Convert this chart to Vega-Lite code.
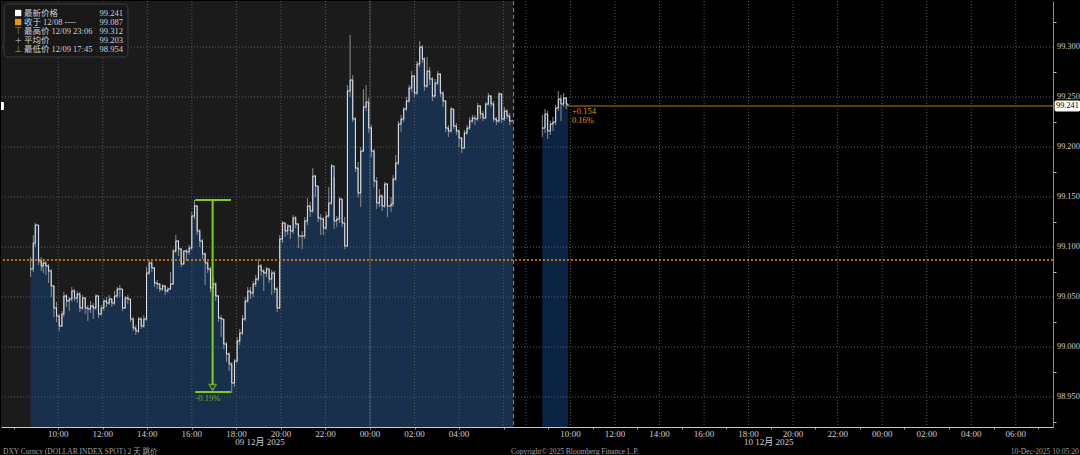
{
  "$schema": "https://vega.github.io/schema/vega-lite/v6.json",
  "width": 1052,
  "height": 426,
  "padding": 0,
  "background": "#000000",
  "config": {
    "view": {"stroke": null, "fill": "#000000"},
    "text": {"font": "Liberation Serif, Noto Sans CJK SC"}
  },
  "datasets": {
    "px": [
      {"t":8.758,"c":99.078,"h":99.090,"l":99.070,"s":1},
      {"t":8.878,"c":99.104,"h":99.112,"l":99.075,"s":1},
      {"t":8.968,"c":99.122,"h":99.124,"l":99.100,"s":1},
      {"t":9.117,"c":99.086,"h":99.122,"l":99.082,"s":1},
      {"t":9.237,"c":99.081,"h":99.090,"l":99.076,"s":1},
      {"t":9.327,"c":99.084,"h":99.088,"l":99.074,"s":1},
      {"t":9.447,"c":99.081,"h":99.086,"l":99.072,"s":1},
      {"t":9.566,"c":99.076,"h":99.083,"l":99.064,"s":1},
      {"t":9.686,"c":99.061,"h":99.078,"l":99.050,"s":1},
      {"t":9.806,"c":99.039,"h":99.062,"l":99.030,"s":1},
      {"t":9.925,"c":99.031,"h":99.045,"l":99.025,"s":1},
      {"t":10.045,"c":99.021,"h":99.033,"l":99.016,"s":1},
      {"t":10.165,"c":99.033,"h":99.036,"l":99.020,"s":1},
      {"t":10.254,"c":99.051,"h":99.055,"l":99.030,"s":1},
      {"t":10.374,"c":99.046,"h":99.053,"l":99.040,"s":1},
      {"t":10.494,"c":99.048,"h":99.050,"l":99.036,"s":1},
      {"t":10.613,"c":99.056,"h":99.060,"l":99.045,"s":1},
      {"t":10.733,"c":99.049,"h":99.058,"l":99.046,"s":1},
      {"t":10.853,"c":99.053,"h":99.056,"l":99.044,"s":1},
      {"t":10.972,"c":99.039,"h":99.055,"l":99.035,"s":1},
      {"t":11.092,"c":99.049,"h":99.052,"l":99.037,"s":1},
      {"t":11.212,"c":99.039,"h":99.050,"l":99.033,"s":1},
      {"t":11.331,"c":99.038,"h":99.042,"l":99.026,"s":1},
      {"t":11.451,"c":99.041,"h":99.046,"l":99.034,"s":1},
      {"t":11.571,"c":99.039,"h":99.044,"l":99.028,"s":1},
      {"t":11.690,"c":99.051,"h":99.053,"l":99.037,"s":1},
      {"t":11.810,"c":99.033,"h":99.052,"l":99.029,"s":1},
      {"t":11.930,"c":99.039,"h":99.042,"l":99.031,"s":1},
      {"t":12.049,"c":99.046,"h":99.048,"l":99.036,"s":1},
      {"t":12.169,"c":99.044,"h":99.050,"l":99.040,"s":1},
      {"t":12.289,"c":99.048,"h":99.052,"l":99.042,"s":1},
      {"t":12.408,"c":99.044,"h":99.049,"l":99.040,"s":1},
      {"t":12.528,"c":99.051,"h":99.056,"l":99.042,"s":1},
      {"t":12.648,"c":99.058,"h":99.060,"l":99.049,"s":1},
      {"t":12.767,"c":99.058,"h":99.062,"l":99.050,"s":1},
      {"t":12.887,"c":99.039,"h":99.058,"l":99.036,"s":1},
      {"t":13.007,"c":99.049,"h":99.051,"l":99.038,"s":1},
      {"t":13.126,"c":99.048,"h":99.052,"l":99.043,"s":1},
      {"t":13.246,"c":99.028,"h":99.048,"l":99.025,"s":1},
      {"t":13.366,"c":99.019,"h":99.030,"l":99.016,"s":1},
      {"t":13.485,"c":99.016,"h":99.022,"l":99.012,"s":1},
      {"t":13.605,"c":99.028,"h":99.030,"l":99.014,"s":1},
      {"t":13.725,"c":99.021,"h":99.030,"l":99.018,"s":1},
      {"t":13.844,"c":99.028,"h":99.032,"l":99.019,"s":1},
      {"t":13.964,"c":99.074,"h":99.080,"l":99.026,"s":1},
      {"t":14.084,"c":99.084,"h":99.087,"l":99.072,"s":1},
      {"t":14.203,"c":99.079,"h":99.086,"l":99.075,"s":1},
      {"t":14.323,"c":99.064,"h":99.080,"l":99.060,"s":1},
      {"t":14.443,"c":99.063,"h":99.067,"l":99.058,"s":1},
      {"t":14.562,"c":99.058,"h":99.064,"l":99.055,"s":1},
      {"t":14.682,"c":99.061,"h":99.063,"l":99.056,"s":1},
      {"t":14.802,"c":99.056,"h":99.062,"l":99.052,"s":1},
      {"t":14.921,"c":99.058,"h":99.060,"l":99.054,"s":1},
      {"t":15.041,"c":99.063,"h":99.075,"l":99.057,"s":1},
      {"t":15.161,"c":99.096,"h":99.098,"l":99.062,"s":1},
      {"t":15.280,"c":99.106,"h":99.112,"l":99.094,"s":1},
      {"t":15.400,"c":99.098,"h":99.107,"l":99.091,"s":1},
      {"t":15.520,"c":99.083,"h":99.099,"l":99.080,"s":1},
      {"t":15.639,"c":99.096,"h":99.097,"l":99.082,"s":1},
      {"t":15.759,"c":99.095,"h":99.098,"l":99.086,"s":1},
      {"t":15.879,"c":99.099,"h":99.102,"l":99.092,"s":1},
      {"t":15.998,"c":99.131,"h":99.135,"l":99.097,"s":1},
      {"t":16.118,"c":99.141,"h":99.147,"l":99.128,"s":1},
      {"t":16.238,"c":99.116,"h":99.142,"l":99.112,"s":1},
      {"t":16.357,"c":99.106,"h":99.118,"l":99.100,"s":1},
      {"t":16.477,"c":99.093,"h":99.108,"l":99.088,"s":1},
      {"t":16.597,"c":99.084,"h":99.095,"l":99.062,"s":1},
      {"t":16.716,"c":99.078,"h":99.086,"l":99.074,"s":1},
      {"t":16.836,"c":99.059,"h":99.080,"l":99.055,"s":1},
      {"t":16.956,"c":99.063,"h":99.070,"l":99.050,"s":1},
      {"t":17.075,"c":99.051,"h":99.065,"l":99.046,"s":1},
      {"t":17.195,"c":99.029,"h":99.052,"l":99.025,"s":1},
      {"t":17.315,"c":99.028,"h":99.032,"l":99.010,"s":1},
      {"t":17.434,"c":99.003,"h":99.028,"l":98.998,"s":1},
      {"t":17.554,"c":98.993,"h":99.005,"l":98.985,"s":1},
      {"t":17.674,"c":98.983,"h":98.995,"l":98.976,"s":1},
      {"t":17.793,"c":98.964,"h":98.985,"l":98.954,"s":1},
      {"t":17.913,"c":98.986,"h":98.988,"l":98.960,"s":1},
      {"t":18.033,"c":99.006,"h":99.010,"l":98.984,"s":1},
      {"t":18.152,"c":99.014,"h":99.018,"l":99.002,"s":1},
      {"t":18.272,"c":99.028,"h":99.032,"l":99.012,"s":1},
      {"t":18.392,"c":99.046,"h":99.050,"l":99.026,"s":1},
      {"t":18.511,"c":99.056,"h":99.060,"l":99.044,"s":1},
      {"t":18.631,"c":99.054,"h":99.060,"l":99.048,"s":1},
      {"t":18.751,"c":99.063,"h":99.066,"l":99.050,"s":1},
      {"t":18.870,"c":99.068,"h":99.072,"l":99.060,"s":1},
      {"t":18.990,"c":99.081,"h":99.088,"l":99.066,"s":1},
      {"t":19.110,"c":99.076,"h":99.083,"l":99.071,"s":1},
      {"t":19.229,"c":99.074,"h":99.078,"l":99.056,"s":1},
      {"t":19.349,"c":99.078,"h":99.080,"l":99.070,"s":1},
      {"t":19.469,"c":99.068,"h":99.079,"l":99.064,"s":1},
      {"t":19.588,"c":99.074,"h":99.077,"l":99.052,"s":1},
      {"t":19.708,"c":99.058,"h":99.076,"l":99.054,"s":1},
      {"t":19.828,"c":99.039,"h":99.060,"l":99.035,"s":1},
      {"t":19.947,"c":99.108,"h":99.112,"l":99.038,"s":1},
      {"t":20.067,"c":99.124,"h":99.126,"l":99.104,"s":1},
      {"t":20.187,"c":99.116,"h":99.125,"l":99.110,"s":1},
      {"t":20.306,"c":99.121,"h":99.123,"l":99.112,"s":1},
      {"t":20.426,"c":99.116,"h":99.122,"l":99.108,"s":1},
      {"t":20.546,"c":99.129,"h":99.132,"l":99.113,"s":1},
      {"t":20.665,"c":99.123,"h":99.131,"l":99.119,"s":1},
      {"t":20.785,"c":99.111,"h":99.124,"l":99.099,"s":1},
      {"t":20.952,"c":99.111,"h":99.116,"l":99.098,"s":1},
      {"t":21.071,"c":99.126,"h":99.130,"l":99.108,"s":1},
      {"t":21.191,"c":99.141,"h":99.149,"l":99.122,"s":1},
      {"t":21.311,"c":99.136,"h":99.145,"l":99.130,"s":1},
      {"t":21.430,"c":99.171,"h":99.179,"l":99.134,"s":1},
      {"t":21.550,"c":99.161,"h":99.172,"l":99.150,"s":1},
      {"t":21.670,"c":99.129,"h":99.161,"l":99.125,"s":1},
      {"t":21.789,"c":99.128,"h":99.133,"l":99.112,"s":1},
      {"t":21.909,"c":99.119,"h":99.130,"l":99.112,"s":1},
      {"t":22.029,"c":99.131,"h":99.135,"l":99.117,"s":1},
      {"t":22.148,"c":99.144,"h":99.160,"l":99.129,"s":1},
      {"t":22.268,"c":99.181,"h":99.183,"l":99.142,"s":1},
      {"t":22.388,"c":99.126,"h":99.170,"l":99.118,"s":1},
      {"t":22.507,"c":99.128,"h":99.131,"l":99.120,"s":1},
      {"t":22.627,"c":99.148,"h":99.150,"l":99.124,"s":1},
      {"t":22.747,"c":99.124,"h":99.148,"l":99.120,"s":1},
      {"t":22.866,"c":99.101,"h":99.130,"l":99.098,"s":1},
      {"t":22.986,"c":99.256,"h":99.262,"l":99.100,"s":1},
      {"t":23.106,"c":99.267,"h":99.312,"l":99.250,"s":1},
      {"t":23.225,"c":99.228,"h":99.272,"l":99.225,"s":1},
      {"t":23.345,"c":99.179,"h":99.230,"l":99.175,"s":1},
      {"t":23.465,"c":99.154,"h":99.185,"l":99.150,"s":1},
      {"t":23.584,"c":99.196,"h":99.200,"l":99.140,"s":1},
      {"t":23.704,"c":99.240,"h":99.258,"l":99.195,"s":1},
      {"t":23.824,"c":99.245,"h":99.262,"l":99.236,"s":1},
      {"t":23.943,"c":99.219,"h":99.249,"l":99.214,"s":1},
      {"t":24.063,"c":99.196,"h":99.222,"l":99.190,"s":1},
      {"t":24.183,"c":99.166,"h":99.198,"l":99.160,"s":1},
      {"t":24.302,"c":99.144,"h":99.170,"l":99.138,"s":1},
      {"t":24.422,"c":99.151,"h":99.158,"l":99.140,"s":1},
      {"t":24.542,"c":99.141,"h":99.153,"l":99.136,"s":1},
      {"t":24.661,"c":99.163,"h":99.165,"l":99.139,"s":1},
      {"t":24.781,"c":99.141,"h":99.164,"l":99.130,"s":1},
      {"t":24.946,"c":99.143,"h":99.150,"l":99.135,"s":1},
      {"t":25.036,"c":99.168,"h":99.172,"l":99.140,"s":1},
      {"t":25.155,"c":99.184,"h":99.192,"l":99.166,"s":1},
      {"t":25.275,"c":99.223,"h":99.226,"l":99.182,"s":1},
      {"t":25.395,"c":99.228,"h":99.232,"l":99.215,"s":1},
      {"t":25.514,"c":99.238,"h":99.240,"l":99.225,"s":1},
      {"t":25.634,"c":99.246,"h":99.250,"l":99.236,"s":1},
      {"t":25.754,"c":99.259,"h":99.262,"l":99.244,"s":1},
      {"t":25.873,"c":99.271,"h":99.276,"l":99.255,"s":1},
      {"t":25.993,"c":99.254,"h":99.272,"l":99.250,"s":1},
      {"t":26.113,"c":99.283,"h":99.286,"l":99.252,"s":1},
      {"t":26.232,"c":99.300,"h":99.306,"l":99.280,"s":1},
      {"t":26.352,"c":99.288,"h":99.302,"l":99.284,"s":1},
      {"t":26.442,"c":99.261,"h":99.290,"l":99.256,"s":1},
      {"t":26.562,"c":99.276,"h":99.290,"l":99.259,"s":1},
      {"t":26.681,"c":99.268,"h":99.280,"l":99.262,"s":1},
      {"t":26.801,"c":99.251,"h":99.270,"l":99.246,"s":1},
      {"t":26.921,"c":99.264,"h":99.268,"l":99.249,"s":1},
      {"t":27.041,"c":99.273,"h":99.276,"l":99.262,"s":1},
      {"t":27.160,"c":99.254,"h":99.274,"l":99.250,"s":1},
      {"t":27.280,"c":99.246,"h":99.256,"l":99.240,"s":1},
      {"t":27.400,"c":99.219,"h":99.247,"l":99.215,"s":1},
      {"t":27.519,"c":99.216,"h":99.222,"l":99.210,"s":1},
      {"t":27.639,"c":99.238,"h":99.240,"l":99.214,"s":1},
      {"t":27.759,"c":99.221,"h":99.238,"l":99.218,"s":1},
      {"t":27.878,"c":99.216,"h":99.224,"l":99.212,"s":1},
      {"t":27.998,"c":99.209,"h":99.218,"l":99.200,"s":1},
      {"t":28.118,"c":99.199,"h":99.210,"l":99.194,"s":1},
      {"t":28.237,"c":99.214,"h":99.217,"l":99.198,"s":1},
      {"t":28.357,"c":99.219,"h":99.222,"l":99.212,"s":1},
      {"t":28.477,"c":99.226,"h":99.230,"l":99.217,"s":1},
      {"t":28.596,"c":99.229,"h":99.232,"l":99.224,"s":1},
      {"t":28.716,"c":99.228,"h":99.232,"l":99.222,"s":1},
      {"t":28.836,"c":99.241,"h":99.244,"l":99.226,"s":1},
      {"t":28.955,"c":99.233,"h":99.242,"l":99.228,"s":1},
      {"t":29.075,"c":99.229,"h":99.236,"l":99.226,"s":1},
      {"t":29.195,"c":99.243,"h":99.245,"l":99.228,"s":1},
      {"t":29.314,"c":99.251,"h":99.254,"l":99.241,"s":1},
      {"t":29.434,"c":99.243,"h":99.252,"l":99.240,"s":1},
      {"t":29.554,"c":99.228,"h":99.246,"l":99.225,"s":1},
      {"t":29.673,"c":99.226,"h":99.230,"l":99.222,"s":1},
      {"t":29.793,"c":99.253,"h":99.255,"l":99.224,"s":1},
      {"t":29.913,"c":99.228,"h":99.254,"l":99.224,"s":1},
      {"t":30.032,"c":99.236,"h":99.240,"l":99.226,"s":1},
      {"t":30.152,"c":99.231,"h":99.238,"l":99.228,"s":1},
      {"t":30.272,"c":99.226,"h":99.234,"l":99.222,"s":1},
      {"t":30.420,"c":99.226,"s":1},
      {"t":31.738,"c":99.219,"h":99.232,"l":99.210,"s":2},
      {"t":31.858,"c":99.233,"h":99.238,"l":99.214,"s":2},
      {"t":31.978,"c":99.216,"h":99.236,"l":99.208,"s":2},
      {"t":32.097,"c":99.223,"h":99.226,"l":99.212,"s":2},
      {"t":32.217,"c":99.225,"h":99.230,"l":99.216,"s":2},
      {"t":32.337,"c":99.239,"h":99.242,"l":99.222,"s":2},
      {"t":32.456,"c":99.248,"h":99.256,"l":99.236,"s":2},
      {"t":32.576,"c":99.243,"h":99.252,"l":99.226,"s":2},
      {"t":32.696,"c":99.249,"h":99.254,"l":99.240,"s":2},
      {"t":32.815,"c":99.243,"h":99.250,"l":99.238,"s":2},
      {"t":32.890,"c":99.241,"s":2}
    ],
    "xgrid": [
      {"t":10},{"t":12},{"t":14},{"t":16},{"t":18},{"t":20},{"t":22},{"t":24},{"t":26},{"t":28},{"t":30},
      {"t":31},{"t":33},{"t":35},{"t":37},{"t":39},{"t":41},{"t":43},{"t":45},{"t":47},{"t":49},{"t":51},{"t":53}
    ],
    "xlab": [
      {"t":10,"txt":"10:00"},{"t":12,"txt":"12:00"},{"t":14,"txt":"14:00"},{"t":16,"txt":"16:00"},
      {"t":18,"txt":"18:00"},{"t":20,"txt":"20:00"},{"t":22,"txt":"22:00"},{"t":24,"txt":"00:00"},
      {"t":26,"txt":"02:00"},{"t":28,"txt":"04:00"},
      {"t":33,"txt":"10:00"},{"t":35,"txt":"12:00"},{"t":37,"txt":"14:00"},{"t":39,"txt":"16:00"},
      {"t":41,"txt":"18:00"},{"t":43,"txt":"20:00"},{"t":45,"txt":"22:00"},{"t":47,"txt":"00:00"},
      {"t":49,"txt":"02:00"},{"t":51,"txt":"04:00"},{"t":53,"txt":"06:00"}
    ],
    "ygrid": [
      {"v":98.95,"txt":"98.950"},{"v":99.0,"txt":"99.000"},{"v":99.05,"txt":"99.050"},{"v":99.1,"txt":"99.100"},
      {"v":99.15,"txt":"99.150"},{"v":99.2,"txt":"99.200"},{"v":99.25,"txt":"99.250"},{"v":99.3,"txt":"99.300"}
    ],
    "legL": [
      {"v":99.334,"txt":"最新价格"},
      {"v":99.325,"txt":"收于 12/08 ----"},
      {"v":99.316,"txt":"最高价 12/09 23:06"},
      {"v":99.307,"txt":"平均价"},
      {"v":99.298,"txt":"最低价 12/09 17:45"}
    ],
    "legR": [
      {"v":99.334,"txt":"99.241"},
      {"v":99.325,"txt":"99.087"},
      {"v":99.316,"txt":"99.312"},
      {"v":99.307,"txt":"99.203"},
      {"v":99.298,"txt":"98.954"}
    ],
    "legS": [
      {"v":99.316,"txt":"⊤"},
      {"v":99.307,"txt":"+"},
      {"v":99.298,"txt":"⊥"}
    ],
    "dates": [
      {"t":19.06,"txt":"09 12月 2025"},
      {"t":41.91,"txt":"10 12月 2025"}
    ]
  },
  "layer": [
    {
      "data": {"values": [{}]},
      "mark": {"type": "rect", "color": "#1b1b1b"},
      "encoding": {
        "x": {"datum": 7.43, "type": "quantitative",
          "scale": {"domain": [7.43, 54.67], "nice": false, "zero": false},
          "axis": {
            "orient": "bottom", "title": null, "grid": false, "labels": false,
            "values": [8,9,10,11,12,13,14,15,16,17,18,19,20,21,22,23,24,25,26,27,28,29,30,31,32,33,34,35,36,37,38,39,40,41,42,43,44,45,46,47,48,49,50,51,52,53,54],
            "domainColor": "#c8c8c8", "tickColor": "#9a9a9a", "tickSize": 2
          }
        },
        "x2": {"datum": 30.449},
        "y": {"datum": 99.346, "type": "quantitative",
          "scale": {"domain": [98.92, 99.346], "nice": false, "zero": false},
          "axis": {
            "orient": "right", "title": null, "grid": false, "labels": false,
            "values": [98.925,98.95,98.975,99.0,99.025,99.05,99.075,99.1,99.125,99.15,99.175,99.2,99.225,99.25,99.275,99.3,99.325],
            "domainColor": "#8a8a8a", "tickColor": "#bdbdbd", "tickSize": 3
          }
        },
        "y2": {"datum": 98.92}
      }
    },
    {
      "data": {"name": "px"},
      "transform": [{"filter": "datum.s == 1"}],
      "mark": {"type": "area", "interpolate": "step-after", "color": "#18304c", "opacity": 1},
      "encoding": {
        "x": {"field": "t", "type": "quantitative"},
        "y": {"field": "c", "type": "quantitative"},
        "y2": {"datum": 98.92}
      }
    },
    {
      "data": {"name": "px"},
      "transform": [{"filter": "datum.s == 2"}],
      "mark": {"type": "area", "interpolate": "step-after", "color": "#0c2443", "opacity": 1},
      "encoding": {
        "x": {"field": "t", "type": "quantitative"},
        "y": {"field": "c", "type": "quantitative"},
        "y2": {"datum": 98.92}
      }
    },
    {
      "data": {"name": "ygrid"},
      "mark": {"type": "rule", "color": "#5a5a5a", "strokeDash": [1, 2], "strokeWidth": 1},
      "encoding": {"y": {"field": "v", "type": "quantitative"}}
    },
    {
      "data": {"name": "xgrid"},
      "mark": {"type": "rule", "color": "#5a5a5a", "strokeDash": [1, 2], "strokeWidth": 1},
      "encoding": {"x": {"field": "t", "type": "quantitative"}}
    },
    {
      "data": {"values": [{}]},
      "mark": {"type": "rule", "color": "#ffffff", "opacity": 0.09, "strokeWidth": 2},
      "encoding": {"x": {"datum": 24, "type": "quantitative"}}
    },
    {
      "data": {"values": [{}]},
      "mark": {"type": "rule", "color": "#8a8a8a", "strokeDash": [4, 3], "strokeWidth": 1},
      "encoding": {"x": {"datum": 30.449, "type": "quantitative"}}
    },
    {
      "data": {"name": "px"},
      "mark": {"type": "rule", "color": "#8e8e8e", "strokeWidth": 1},
      "encoding": {
        "x": {"field": "t", "type": "quantitative"},
        "y": {"field": "l", "type": "quantitative"},
        "y2": {"field": "h"}
      }
    },
    {
      "data": {"name": "px"},
      "mark": {"type": "line", "interpolate": "step-after", "color": "#dde3ea", "strokeWidth": 1},
      "encoding": {
        "x": {"field": "t", "type": "quantitative"},
        "y": {"field": "c", "type": "quantitative"},
        "detail": {"field": "s"}
      }
    },
    {
      "data": {"values": [{}]},
      "mark": {"type": "rule", "color": "#f08c00", "strokeDash": [2, 2], "strokeWidth": 1.5},
      "encoding": {"y": {"datum": 99.087, "type": "quantitative"}}
    },
    {
      "data": {"values": [{}]},
      "mark": {"type": "rule", "color": "#7d5600", "strokeWidth": 1.5},
      "encoding": {
        "x": {"datum": 32.89, "type": "quantitative"},
        "x2": {"datum": 54.67},
        "y": {"datum": 99.241, "type": "quantitative"}
      }
    },
    {
      "data": {"values": [{"txt": "+0.154", "v": 99.236}, {"txt": "0.16%", "v": 99.227}]},
      "mark": {"type": "text", "align": "left", "baseline": "middle", "color": "#e8900a", "fontSize": 8.5},
      "encoding": {
        "x": {"datum": 33.07, "type": "quantitative"},
        "y": {"field": "v", "type": "quantitative"},
        "text": {"field": "txt"}
      }
    },
    {
      "data": {"values": [{"a": 16.152, "b": 17.755, "v": 99.147}, {"a": 16.152, "b": 17.755, "v": 98.955}]},
      "mark": {"type": "rule", "color": "#7fcc1c", "strokeWidth": 2},
      "encoding": {
        "x": {"field": "a", "type": "quantitative"},
        "x2": {"field": "b"},
        "y": {"field": "v", "type": "quantitative"}
      }
    },
    {
      "data": {"values": [{}]},
      "mark": {"type": "rule", "color": "#7fcc1c", "strokeWidth": 2},
      "encoding": {
        "x": {"datum": 16.933, "type": "quantitative"},
        "y": {"datum": 99.147, "type": "quantitative"},
        "y2": {"datum": 98.962}
      }
    },
    {
      "data": {"values": [{}]},
      "mark": {"type": "point", "shape": "triangle-down", "filled": false, "color": "#7fcc1c", "strokeWidth": 1.5, "size": 45},
      "encoding": {
        "x": {"datum": 16.933, "type": "quantitative"},
        "y": {"datum": 98.9595, "type": "quantitative"}
      }
    },
    {
      "data": {"values": [{"txt": "-0.19%"}]},
      "mark": {"type": "text", "align": "center", "baseline": "middle", "color": "#6aae1c", "fontSize": 8.5},
      "encoding": {
        "x": {"datum": 16.72, "type": "quantitative"},
        "y": {"datum": 98.949, "type": "quantitative"},
        "text": {"field": "txt"}
      }
    },
    {
      "data": {"name": "ygrid"},
      "mark": {"type": "text", "align": "left", "baseline": "middle", "color": "#cfcfcf", "fontSize": 8.3, "dx": 4},
      "encoding": {
        "x": {"datum": 54.67, "type": "quantitative"},
        "y": {"field": "v", "type": "quantitative"},
        "text": {"field": "txt"}
      }
    },
    {
      "data": {"name": "xlab"},
      "mark": {"type": "text", "align": "center", "baseline": "middle", "color": "#cfcfcf", "fontSize": 9},
      "encoding": {
        "x": {"field": "t", "type": "quantitative"},
        "y": {"datum": 98.9135, "type": "quantitative"},
        "text": {"field": "txt"}
      }
    },
    {
      "data": {"values": [{}]},
      "mark": {"type": "rect", "color": "#ffffff", "cornerRadius": 2},
      "encoding": {
        "x": {"datum": 54.74, "type": "quantitative"},
        "x2": {"datum": 55.9},
        "y": {"datum": 99.2465, "type": "quantitative"},
        "y2": {"datum": 99.2355}
      }
    },
    {
      "data": {"values": [{"txt": "99.241"}]},
      "mark": {"type": "text", "align": "center", "baseline": "middle", "color": "#000000", "fontSize": 8.3, "font": "Liberation Serif"},
      "encoding": {
        "x": {"datum": 55.32, "type": "quantitative"},
        "y": {"datum": 99.241, "type": "quantitative"},
        "text": {"field": "txt"}
      }
    },
    {
      "data": {"values": [{}]},
      "mark": {"type": "rect", "color": "#ffffff"},
      "encoding": {
        "x": {"datum": 7.43, "type": "quantitative"},
        "x2": {"datum": 7.56},
        "y": {"datum": 99.245, "type": "quantitative"},
        "y2": {"datum": 99.237}
      }
    },
    {
      "data": {"values": [{}]},
      "mark": {"type": "rect", "fill": "#181818", "stroke": "#3c3c3c", "strokeWidth": 1, "cornerRadius": 4},
      "encoding": {
        "x": {"datum": 7.565, "type": "quantitative"},
        "x2": {"datum": 13.13},
        "y": {"datum": 99.343, "type": "quantitative"},
        "y2": {"datum": 99.29}
      }
    },
    {
      "data": {"values": [{"v": 99.334}]},
      "mark": {"type": "point", "shape": "square", "filled": true, "color": "#ffffff", "size": 40, "opacity": 1},
      "encoding": {
        "x": {"datum": 8.2, "type": "quantitative"},
        "y": {"field": "v", "type": "quantitative"}
      }
    },
    {
      "data": {"values": [{"v": 99.325}]},
      "mark": {"type": "point", "shape": "square", "filled": true, "color": "#f0960a", "size": 40, "opacity": 1},
      "encoding": {
        "x": {"datum": 8.2, "type": "quantitative"},
        "y": {"field": "v", "type": "quantitative"}
      }
    },
    {
      "data": {"name": "legS"},
      "mark": {"type": "text", "align": "center", "baseline": "middle", "color": "#9a9a9a", "fontSize": 9, "font": "DejaVu Sans"},
      "encoding": {
        "x": {"datum": 8.2, "type": "quantitative"},
        "y": {"field": "v", "type": "quantitative"},
        "text": {"field": "txt"}
      }
    },
    {
      "data": {"name": "legL"},
      "mark": {"type": "text", "align": "left", "baseline": "middle", "color": "#d0d0d0", "fontSize": 8.5},
      "encoding": {
        "x": {"datum": 8.46, "type": "quantitative"},
        "y": {"field": "v", "type": "quantitative"},
        "text": {"field": "txt"}
      }
    },
    {
      "data": {"name": "legR"},
      "mark": {"type": "text", "align": "right", "baseline": "middle", "color": "#d0d0d0", "fontSize": 8.5},
      "encoding": {
        "x": {"datum": 12.905, "type": "quantitative"},
        "y": {"field": "v", "type": "quantitative"},
        "text": {"field": "txt"}
      }
    },
    {
      "data": {"name": "dates"},
      "mark": {"type": "text", "align": "center", "baseline": "middle", "color": "#cfcfcf", "fontSize": 9},
      "encoding": {
        "x": {"field": "t", "type": "quantitative"},
        "y": {"datum": 98.905, "type": "quantitative"},
        "text": {"field": "txt"}
      }
    },
    {
      "data": {"values": [{"txt": "DXY Curncy (DOLLAR INDEX SPOT) 2 天 跳价"}]},
      "mark": {"type": "text", "align": "left", "baseline": "middle", "color": "#a0a0a0", "fontSize": 7.5},
      "encoding": {
        "x": {"datum": 7.52, "type": "quantitative"},
        "y": {"datum": 98.8955, "type": "quantitative"},
        "text": {"field": "txt"}
      }
    },
    {
      "data": {"values": [{"txt": "Copyright© 2025 Bloomberg Finance L.P."}]},
      "mark": {"type": "text", "align": "left", "baseline": "middle", "color": "#a0a0a0", "fontSize": 7.5},
      "encoding": {
        "x": {"datum": 30.33, "type": "quantitative"},
        "y": {"datum": 98.8955, "type": "quantitative"},
        "text": {"field": "txt"}
      }
    },
    {
      "data": {"values": [{"txt": "10-Dec-2025 10:05:20"}]},
      "mark": {"type": "text", "align": "right", "baseline": "middle", "color": "#a0a0a0", "fontSize": 7.5},
      "encoding": {
        "x": {"datum": 55.83, "type": "quantitative"},
        "y": {"datum": 98.8955, "type": "quantitative"},
        "text": {"field": "txt"}
      }
    }
  ]
}
